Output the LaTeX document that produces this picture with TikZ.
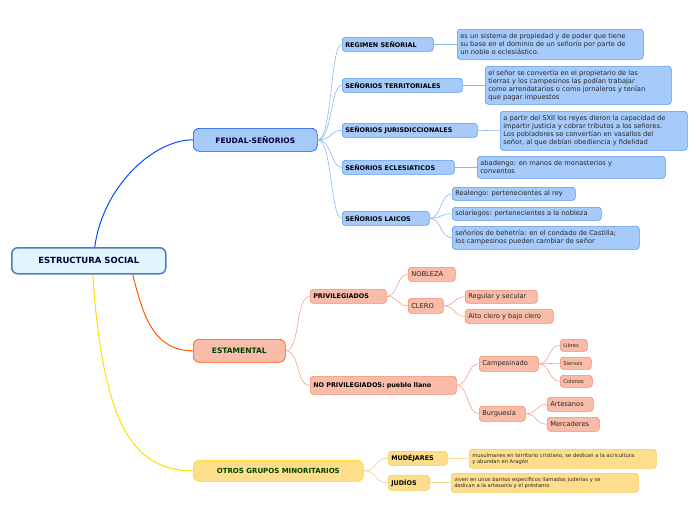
\documentclass[tikz,border=0pt]{standalone}
\usepackage{fontspec}
\setmainfont{DejaVu Sans}
\definecolor{bf}{RGB}{166,202,250}
\definecolor{bd}{RGB}{90,150,240}
\definecolor{rf}{RGB}{248,188,168}
\definecolor{rdd}{RGB}{240,140,110}
\definecolor{yf}{RGB}{254,222,140}
\definecolor{yd}{RGB}{246,200,90}
\definecolor{tc}{RGB}{40,40,40}
\begin{document}
\begin{tikzpicture}[x=1pt,y=-1pt,
  base/.style={rounded corners=3pt,inner xsep=3pt,inner ysep=0pt,anchor=north west,align=flush left,line width=0.6pt,text=tc},
  bl/.style={base,fill=bf,draw=bd},
  rd/.style={base,fill=rf,draw=rdd},
  ye/.style={base,fill=yf,draw=yd},
  lb/.style={font=\fontsize{6.4}{7}\selectfont\bfseries,text=black},
  tx/.style={font=\fontsize{6.7}{8.1}\selectfont},
  sm/.style={font=\fontsize{5.2}{6.3}\selectfont},
  cb/.style={draw=bd!70!white,line width=0.6pt},
  cr/.style={draw=rdd!80!white,line width=0.6pt},
  cy/.style={draw=yd!70!white,line width=0.8pt}]
\useasboundingbox (0,0) rectangle (696,520);
\newcommand\bx[7]{\node[#2,minimum width={#5pt-#3pt},minimum height={#6pt-#4pt},text width={#5pt-#3pt-4pt}] (#1) at (#3,#4) {#7};}
% roots
\node[base,fill=cyan!12!white,draw=cyan!40!blue!75,line width=1.5pt,rounded corners=6pt,minimum width=154pt,minimum height=26pt,align=center,font=\fontsize{8.5}{10}\selectfont\bfseries,text=blue!25!black] (root) at (11,247) {ESTRUCTURA SOCIAL};
\node[bl,draw=blue!70!cyan,rounded corners=6pt,minimum width=124pt,minimum height=23pt,align=center,font=\fontsize{7.5}{9}\selectfont\bfseries,text=blue!25!black] (fe) at (193,128) {FEUDAL-SEÑORIOS};
\node[rd,draw=orange!60!red,rounded corners=6pt,minimum width=92pt,minimum height=23pt,align=center,font=\fontsize{7.5}{9}\selectfont\bfseries,text=green!25!black] (es) at (193,339) {ESTAMENTAL};
\node[ye,draw=yellow!80!orange,rounded corners=6pt,minimum width=170pt,minimum height=21pt,align=center,font=\fontsize{7}{9}\selectfont\bfseries,text=green!25!black] (ot) at (193,460) {OTROS GRUPOS MINORITARIOS};
% feudal
\bx{rs}{bl,lb}{342}{37}{431}{51}{REGIMEN SEÑORIAL}
\bx{st}{bl,lb}{342}{78}{460}{92}{SEÑORIOS TERRITORIALES}
\bx{sj}{bl,lb}{342}{123}{475}{137}{SEÑORIOS JURISDICCIONALES}
\bx{se}{bl,lb}{342}{160}{452}{174}{SEÑORIOS ECLESIATICOS}
\bx{sl}{bl,lb}{342}{211}{427}{225}{SEÑORIOS LAICOS}
\bx{d1}{bl,tx}{457}{29}{641}{59}{es un sistema de propiedad y de poder que tiene\\su base en el dominio de un señorío por parte de\\un noble o eclesiástico.}
\bx{d2}{bl,tx}{485}{66}{669}{104}{el señor se convertía en el propietario de las\\tierras y los campesinos las podían trabajar\\como arrendatarios o como jornaleros y tenían\\que pagar impuestos}
\bx{d3}{bl,tx}{500}{111}{685}{150}{a partir del SXII los reyes dieron la capacidad de\\impartir justicia y cobrar tributos a los señores.\\Los pobladores se convertían en vasallos del\\señor, al que debían obediencia y fidelidad}
\bx{d4}{bl,tx}{477}{156}{663}{178}{abadengo: en manos de monasterios y\\conventos}
\bx{d5}{bl,tx}{452}{187}{573}{200}{Realengo: pertenecientes al rey}
\bx{d6}{bl,tx}{452}{207}{599}{220}{solariegos: pertenecientes a la nobleza}
\bx{d7}{bl,tx}{452}{226}{637}{249}{señoríos de behetría: en el condado de Castilla;\\los campesinos pueden cambiar de señor}
% estamental
\bx{pr}{rd,lb}{310}{289}{384}{303}{PRIVILEGIADOS}
\bx{no}{rd,tx}{408}{267}{453}{281}{NOBLEZA}
\bx{cl}{rd,tx}{408}{298}{441}{313}{CLERO}
\bx{rg}{rd,tx}{465}{290}{535}{303}{Regular y secular}
\bx{ac}{rd,tx}{465}{309}{551}{323}{Alto clero y bajo clero}
\bx{np}{rd,lb}{310}{376}{454}{394}{NO PRIVILEGIADOS: pueblo llano}
\bx{ca}{rd,tx}{479}{356}{536}{371}{Campesinado}
\bx{li}{rd,sm}{560}{339}{585}{351}{Libres}
\bx{si}{rd,sm}{560}{357}{589}{369}{Siervos}
\bx{co}{rd,sm}{560}{375}{590}{387}{Colonos}
\bx{bu}{rd,tx}{479}{406}{523}{421}{Burguesía}
\bx{ar}{rd,tx}{547}{397}{591}{411}{Artesanos}
\bx{me}{rd,tx}{547}{417}{597}{431}{Mercaderes}
% otros
\bx{mu}{ye,lb}{388}{451}{445}{465}{MUDÉJARES}
\bx{ju}{ye,lb}{388}{475}{427}{490}{JUDÍOS}
\bx{m1}{ye,sm}{469}{449}{654}{468}{musulmanes en territorio cristiano, se dedican a la acricultura\\y abundan en Aragón}
\bx{j1}{ye,sm}{451}{473}{636}{492}{viven en unos barrios específicos llamados juderías y se\\dedican a la artesanía y el préstamo}
% connectors
\draw[draw=blue!70!cyan,line width=1pt] ([xshift=6pt]root.north) .. controls +(8,-60) and +(-40,0) .. (fe.west);
\draw[draw=orange!70!red,line width=1pt] ([xshift=44pt]root.south) .. controls +(10,40) and +(-40,0) .. (es.west);
\draw[draw=yellow!80!orange,line width=1pt] ([xshift=4pt]root.south) .. controls +(10,150) and +(-60,0) .. (ot.west);
\foreach \c in {rs,st,sj,se,sl}{\draw[cb] (fe.east) .. controls +(15,0) and +(-12,0) .. (\c.west);}
\foreach \p/\c in {rs/d1,st/d2,sj/d3,se/d4,sl/d5,sl/d6,sl/d7}{\draw[cb] (\p.east) .. controls +(12,0) and +(-12,0) .. (\c.west);}
\foreach \c in {pr,np}{\draw[cr] (es.east) .. controls +(15,0) and +(-15,0) .. (\c.west);}
\foreach \p/\c in {pr/no,pr/cl,cl/rg,cl/ac,np/ca,np/bu,ca/li,ca/si,ca/co,bu/ar,bu/me}{\draw[cr] (\p.east) .. controls +(12,0) and +(-12,0) .. (\c.west);}
\foreach \c in {mu,ju}{\draw[cy] (ot.east) .. controls +(15,0) and +(-15,0) .. (\c.west);}
\foreach \p/\c in {mu/m1,ju/j1}{\draw[cy] (\p.east) -- (\c.west);}
\end{tikzpicture}
\end{document}
